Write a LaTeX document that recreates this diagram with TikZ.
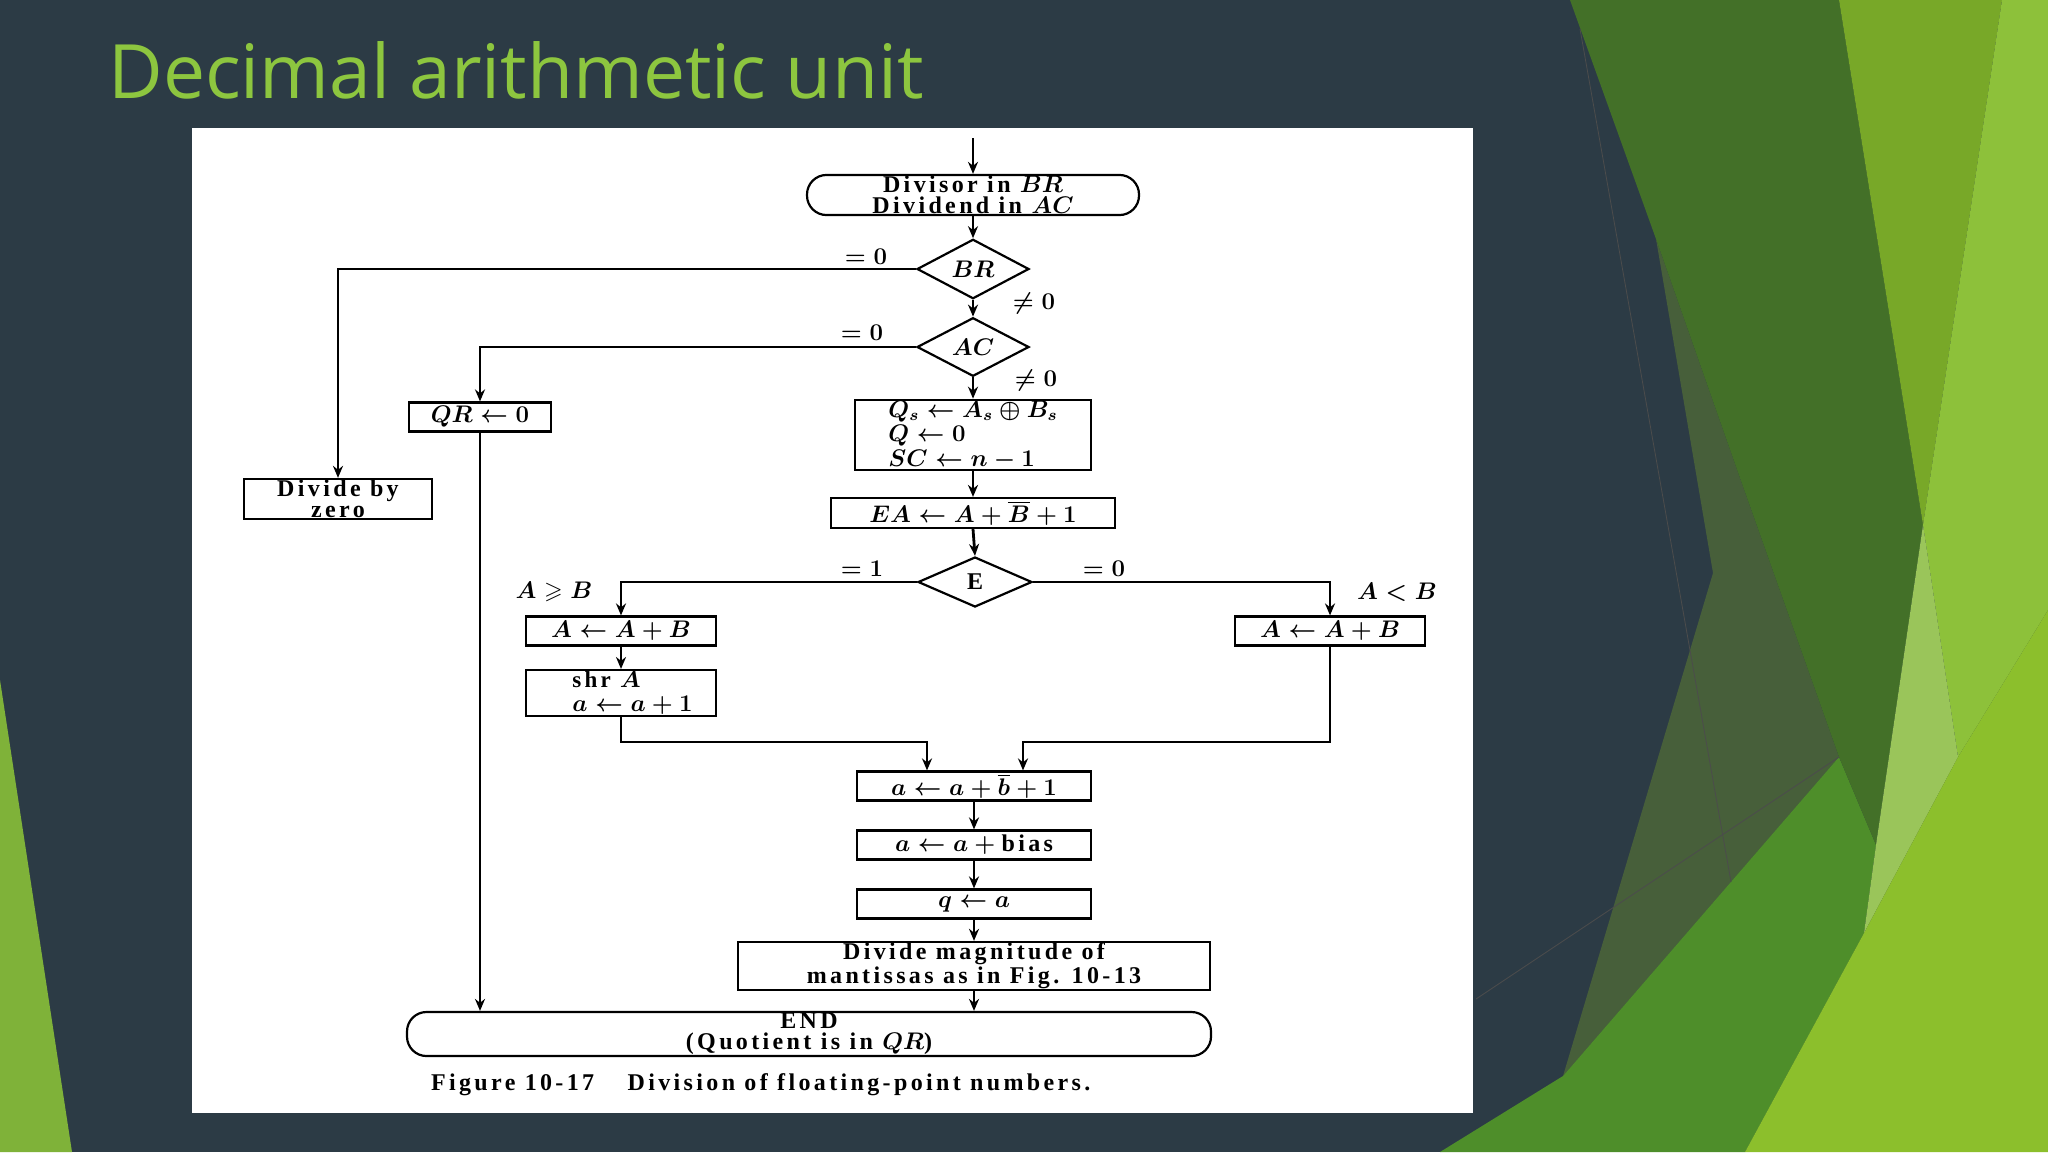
\documentclass[tikz,border=0pt]{standalone}
\usepackage{fontspec}
\usepackage{amssymb}
\setmainfont{Liberation Serif}
\newfontfamily\titlefont{Open Sans}
\newfontfamily\wide[LetterSpace=14]{Liberation Serif}
\usetikzlibrary{shapes.geometric,arrows.meta}
\definecolor{slate}{HTML}{2C3B45}
\definecolor{tgreen}{HTML}{8DC63F}
\definecolor{gA}{RGB}{71,95,58}
\definecolor{gB}{RGB}{78,142,42}
\definecolor{gC}{RGB}{67,112,40}
\definecolor{gD}{RGB}{120,168,40}
\definecolor{gE}{RGB}{141,193,58}
\definecolor{gF}{RGB}{154,197,90}
\definecolor{gG}{RGB}{140,191,44}
\tikzset{
  box/.style={draw,line width=1.1pt,rectangle,inner sep=0.5pt,align=center,font=\wide\bfseries\boldmath\fontsize{12}{10.6}\selectfont},
  tall/.style={font=\wide\bfseries\boldmath\fontsize{11.5}{12.2}\selectfont},
  term/.style={box,rounded corners=9.75pt},
  dia/.style={draw,line width=1.1pt,diamond,inner sep=0pt,font=\wide\bfseries\boldmath\fontsize{12}{10}\selectfont},
  arr/.style={line width=1.4pt,-{Stealth[length=6pt,width=5pt]}},
  lab/.style={font=\wide\bfseries\boldmath\fontsize{12}{10}\selectfont}
}
\begin{document}
\begin{tikzpicture}[x=0.5pt,y=-0.5pt]
\useasboundingbox (0,0) rectangle (2048,1152);
\fill[slate] (0,0) rectangle (2048,1152);
% background shapes
\fill[tgreen!90!black] (0,680) -- (72,1152) -- (0,1152) -- cycle;
\fill[gA] (1656,239) -- (1741,481) -- (1839,757) -- (1563,1076) -- (1713,573) -- cycle;
\fill[gB] (1440,1152) -- (1563,1076) -- (1839,757) -- (1876,845) -- (1864,933) -- (1745,1152) -- cycle;
\fill[gC] (1570,0) -- (1839,0) -- (1923,525) -- (1876,845) -- (1839,757) -- (1741,481) -- (1656,239) -- cycle;
\fill[gD] (1839,0) -- (2002,0) -- (1923,525) -- cycle;
\fill[gE] (2002,0) -- (2048,0) -- (2048,610) -- (1958,757) -- (1923,525) -- cycle;
\fill[gF] (1923,525) -- (1958,757) -- (1864,933) -- (1876,845) -- cycle;
\fill[gG] (1864,933) -- (1958,757) -- (2048,610) -- (2048,1152) -- (1745,1152) -- cycle;
\draw[black!70,line width=0.4pt] (1580,29) -- (1731,882);
\draw[black!70,line width=0.4pt] (1476,999) -- (1839,757);
% title
\node[anchor=base west,text=tgreen,font=\titlefont\fontsize{37.5}{38}\selectfont,inner sep=0pt] (title) at (108,98) {Decimal arithmetic unit};
% panel
\fill[white] (192,128) rectangle (1473,1113);
% nodes
\coordinate (top) at (973,138);
\node[term,minimum width=166pt,minimum height=19.5pt] (start) at (973,195) {Divisor in $BR$\\Dividend in $AC$};
\node[dia,minimum width=56pt,minimum height=19.5pt] (BR) at (973,269) {$BR$};
\node[dia,minimum width=56pt,minimum height=19.5pt] (AC) at (973,347) {$AC$};
\node[box,minimum width=94pt,minimum height=18pt] (dz) at (338,499) {Divide by\\zero};
\node[box,minimum width=71pt,minimum height=14.5pt] (QR) at (480,417) {$QR\leftarrow 0$};
\node[box,tall,minimum width=118pt,minimum height=33pt,align=left] (init) at (973,435) {$Q_s\leftarrow A_s\oplus B_s$\\$Q\leftarrow 0$\\$SC\leftarrow n-1$};
\node[box,minimum width=142pt,minimum height=15pt] (EA) at (973,513) {$EA\leftarrow A+\overline{B}+1$};
\node[dia,minimum width=57pt,minimum height=25pt] (E) at (975,582) {E};
\node[box,minimum width=95pt,minimum height=14.5pt] (L1) at (621,631) {$A\leftarrow A+B$};
\node[box,minimum width=95pt,minimum height=14.5pt] (R1) at (1330,631) {$A\leftarrow A+B$};
\node[box,tall,minimum width=95pt,minimum height=20pt,align=left] (shr) at (621,693) {\quad shr $A$\\\quad $a\leftarrow a+1$};
\node[box,minimum width=117pt,minimum height=14.5pt] (sub) at (974,786) {$a\leftarrow a+\overline{b}+1$};
\node[box,minimum width=117pt,minimum height=14.5pt] (bias) at (974,845) {$a\leftarrow a+{}$bias};
\node[box,minimum width=117pt,minimum height=14.5pt] (q) at (974,904) {$q\leftarrow a$};
\node[box,minimum width=236pt,minimum height=19.5pt] (div) at (974,966) {Divide magnitude of\\mantissas as in Fig. 10-13};
\node[term,minimum width=402pt,minimum height=19.5pt] (END) at (809,1034) {END\\(Quotient is in $QR$)};
\node[anchor=west,font=\wide\bfseries\fontsize{12}{12}\selectfont] (cap) at (424,1085) {Figure 10-17\quad\ Division of floating-point numbers.};
% labels
\node[lab] (l1) at (866,257) {$=0$};
\node[lab] (l2) at (1034,303) {$\neq 0$};
\node[lab] (l3) at (862,333) {$=0$};
\node[lab] (l4) at (1036,380) {$\neq 0$};
\node[lab] (l5) at (862,569) {$=1$};
\node[lab] (l6) at (1104,569) {$=0$};
\node[lab] (l7) at (554,592) {$A\geqslant B$};
\node[lab] (l8) at (1397,592) {$A<B$};
% connectors
\draw[arr] (top) -- (start.north);
\draw[arr] (start.south) -- (BR.north);
\draw[arr] (BR.west) -| (dz.north);
\draw[arr] (BR.south) -- (AC.north);
\draw[arr] (AC.west) -| (QR.north);
\draw[arr] (QR.south) -- (QR.south |- END.north);
\draw[arr] (AC.south) -- (init.north);
\draw[arr] (init.south) -- (EA.north);
\draw[arr] (EA.south) -- (E.north);
\draw[arr] (E.west) -| (L1.north);
\draw[arr] (E.east) -| (R1.north);
\draw[arr] (L1.south) -- (shr.north);
\coordinate (jl) at (927,742);
\coordinate (jr) at (1023,742);
\draw[arr] (shr.south) |- (jl) -- (jl |- sub.north);
\draw[arr] (R1.south) |- (jr) -- (jr |- sub.north);
\draw[arr] (sub.south) -- (bias.north);
\draw[arr] (bias.south) -- (q.north);
\draw[arr] (q.south) -- (div.north);
\draw[arr] (div.south) -- (div.south |- END.north);
\end{tikzpicture}
\end{document}
